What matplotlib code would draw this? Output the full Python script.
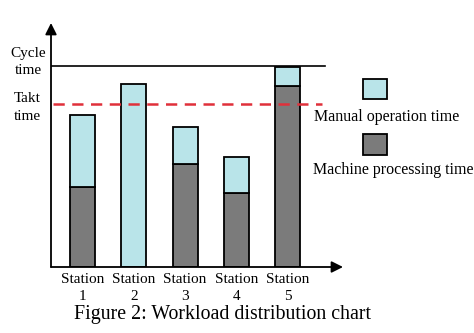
import matplotlib.pyplot as plt
from matplotlib.patches import Rectangle

plt.rcParams['font.family'] = ['Liberation Serif', 'DejaVu Serif']

# Данные
stations = ["Station\n1", "Station\n2", "Station\n3", "Station\n4", "Station\n5"]
machine_time = [80, 0, 103, 74, 181]
manual_time = [72, 183, 37, 36, 19]
cycle_time = 201
takt_time = 163

light = '#b9e4e9'
dark = '#7b7b7b'

fig = plt.figure(figsize=(4.74, 3.33), dpi=100)
W, H = 474, 333
# оси в пиксельных координатах картинки
ax = fig.add_axes([51 / W, (H - 267) / H, (343 - 51) / W, (267 - 23) / H])

x = list(range(len(stations)))
ax.bar(x, machine_time, width=0.49, color=dark, edgecolor='black', linewidth=1.3)
ax.bar(x, manual_time, width=0.49, bottom=machine_time, color=light,
       edgecolor='black', linewidth=1.3)

ax.set_xlim(-0.615, 5.08)
ax.set_ylim(0, 244)

ax.axhline(cycle_time, xmin=0, xmax=0.938, color='black', linewidth=1.2)
ax.axhline(takt_time, xmin=0.007, xmax=0.928, color='#e0303a', linewidth=1.8,
           linestyle=(0, (4.5, 3)))

# оси со стрелками
for s in ax.spines.values():
    s.set_visible(False)
ax.annotate('', xy=(0, 1.0), xytext=(0, 0), xycoords='axes fraction',
            arrowprops=dict(arrowstyle='-|>', color='black', lw=1.3,
                            mutation_scale=17, shrinkA=0, shrinkB=0))
ax.annotate('', xy=(1.0, 0), xytext=(0, 0), xycoords='axes fraction',
            arrowprops=dict(arrowstyle='-|>', color='black', lw=1.3,
                            mutation_scale=17, shrinkA=0, shrinkB=0))

ax.set_xticks(x)
ax.set_xticklabels(stations, fontsize=11, linespacing=1.45)
ax.tick_params(axis='x', length=0, pad=4)
ax.set_yticks([])

fig.text(28 / W, 1 - 62 / H, "Cycle\ntime", ha='center', va='center',
         fontsize=11, linespacing=1.5)
fig.text(27 / W, 1 - 107 / H, "Takt\ntime", ha='center', va='center',
         fontsize=11, linespacing=1.5)

# легенда
fig.add_artist(Rectangle((363 / W, (H - 99) / H), 24 / W, 20 / H,
                         transform=fig.transFigure, facecolor=light,
                         edgecolor='black', linewidth=1.3))
fig.add_artist(Rectangle((363 / W, (H - 155) / H), 24 / W, 21 / H,
                         transform=fig.transFigure, facecolor=dark,
                         edgecolor='black', linewidth=1.3))
fig.text(387 / W, 1 - 117 / H, "Manual operation time", ha='center',
         va='center', fontsize=11.5)
fig.text(393 / W, 1 - 170 / H, "Machine processing time", ha='center',
         va='center', fontsize=11.5)

fig.text(223 / W, 1 - 315 / H, "Figure 2: Workload distribution chart",
         ha='center', va='center', fontsize=14.3)

plt.savefig('out.png', dpi=100)
